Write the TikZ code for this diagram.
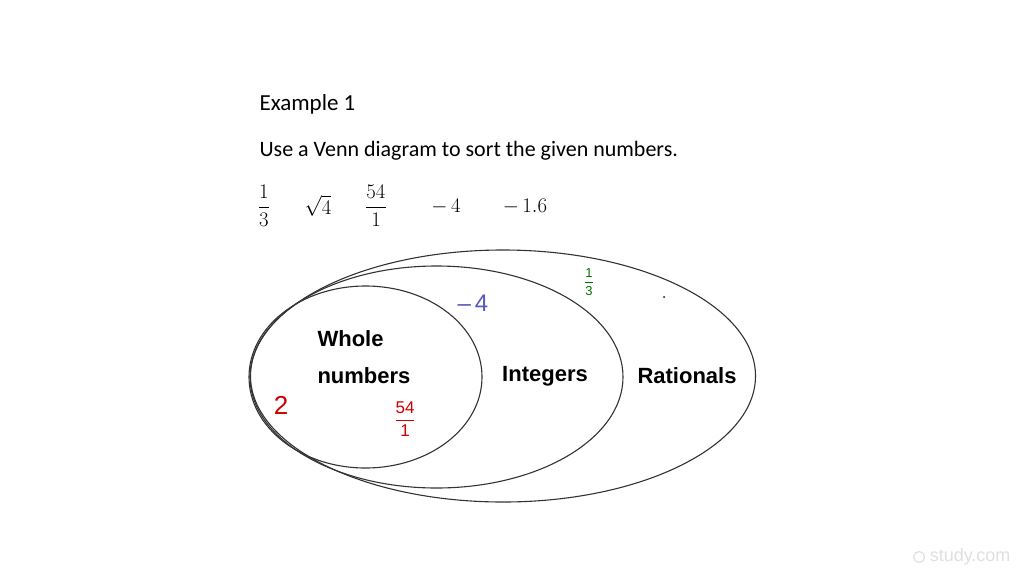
\documentclass[tikz,border=0pt]{standalone}
\usepackage{amsmath}
\usepackage{fontspec}
\setmainfont{Carlito}
\newfontfamily\labelfont{Liberation Sans}
\usetikzlibrary{shapes.geometric, positioning}

\tikzset{
  set/.style={ellipse, draw=black!80, line width=1.1pt, inner sep=0pt},
  setname/.style={font=\labelfont\bfseries\fontsize{22}{26}\selectfont, align=left},
  ink/.style={font=\labelfont\fontsize{17}{18}\selectfont, inner sep=0pt}
}

\begin{document}
\begin{tikzpicture}[x=1pt, y=-1pt]
      \useasboundingbox[fill=white] (0,0) rectangle (1024,576);

      \node[anchor=base west, font=\fontsize{23}{26}\selectfont] (title) at (256,110) {Example 1};
      \node[anchor=base west, font=\fontsize{22}{26}\selectfont] (task) at (256,156) {Use a Venn diagram to sort the given numbers.};

      \node[font=\fontsize{21}{24}\selectfont] (n1) at (264,206) {$\dfrac{1}{3}$};
      \node[font=\fontsize{21}{24}\selectfont] (n2) at (318,206) {$\sqrt{4}$};
      \node[font=\fontsize{21}{24}\selectfont] (n3) at (376,206) {$\dfrac{54}{1}$};
      \node[font=\fontsize{21}{24}\selectfont] (n4) at (446,207) {$-\,4$};
      \node[font=\fontsize{21}{24}\selectfont] (n5) at (525,207) {$-\,1.6$};

      \node[set, minimum width=505pt, minimum height=252pt] (rat) at (503,376) {};
      \node[set, minimum width=373pt, minimum height=222pt] (int) at (436.5,377) {};
      \node[set, minimum width=233pt, minimum height=182pt] (whole) at (365.5,377) {};

      \node[setname] (wholename) at (364,357) {Whole\\[11pt]numbers};
      \node[setname] (intname) at (545,376) {Integers};
      \node[setname] (ratname) at (687,376) {Rationals};

      \node[ink, text=blue!45!gray!90, font=\labelfont\fontsize{24}{24}\selectfont] (minusfour) at (473,303) {\textendash\,4};
      \node[ink, text=green!45!black, font=\labelfont\fontsize{13}{14}\selectfont] (third) at (589,282) {$\genfrac{}{}{0.9pt}{0}{\text{1}}{\text{3}}$};
      \node[ink, text=red!80!black, font=\labelfont\fontsize{26}{26}\selectfont] (two) at (281,405) {2};
      \node[ink, text=red!80!black, font=\labelfont\fontsize{17}{18}\selectfont] (fiftyfour) at (405,419) {$\genfrac{}{}{1pt}{0}{\text{54}}{\text{1}}$};
      \node[circle, fill=black!70, inner sep=0pt, minimum size=2.5pt] (dot) at (664,297) {};

      \node[anchor=east, text=black!12, font=\labelfont\fontsize{18}{18}\selectfont] (brand) at (1014,557) {study.com};
      \node[circle, draw=black!12, line width=1.2pt, minimum size=11pt, inner sep=0pt, left=1pt of brand] (logo) {};
    \end{tikzpicture}
\end{document}
